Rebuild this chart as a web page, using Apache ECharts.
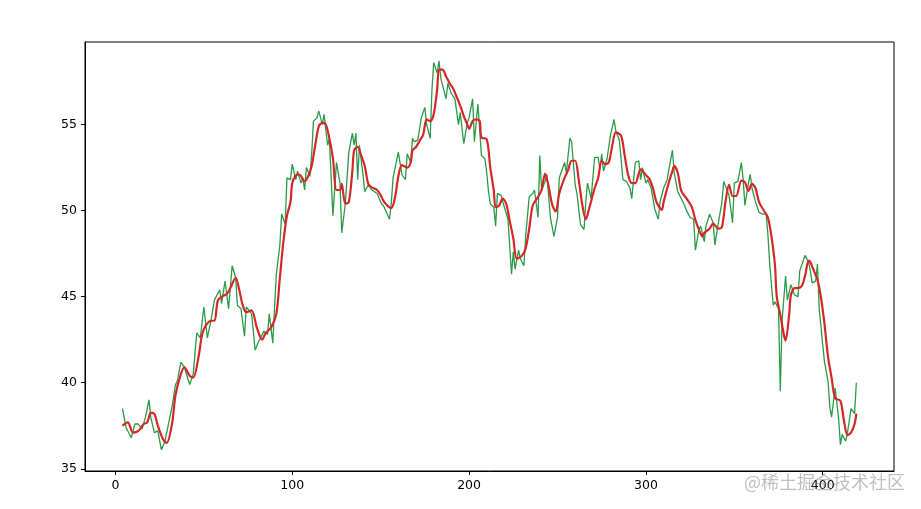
<!DOCTYPE html>
<html>
<head>
<meta charset="utf-8">
<script src="https://cdn.jsdelivr.net/npm/echarts@6/dist/echarts.min.js"></script>
<style>html,body{margin:0;padding:0;background:#fff}#c{width:921px;height:509px}</style>
</head>
<body>
<div id="c"></div>
<script>
var xTicks = [0, 100, 200, 300, 400];
var yTicks = [35, 40, 45, 50, 55];

var priceIdx = [4,6,9,11,13,15,17,19,20,22,24,26,28,30,32,34,35,37,39,42,44,46,48,50,52,54,56,59,60,62,64,66,68,69,71,73,74,77,78,79,81,84,86,87,89,90,91,93,94,96,97,99,100,102,103,105,106,107,108,110,111,112,114,115,117,118,120,121,123,125,127,128,130,132,134,135,136,137,138,140,141,143,145,148,150,151,152,155,156,157,159,160,162,164,165,167,168,169,171,173,175,176,178,179,180,182,183,184,185,187,188,190,192,194,195,197,199,200,202,203,205,207,209,210,211,212,214,215,216,218,220,222,224,225,226,228,229,231,232,234,236,237,239,240,241,243,244,246,248,250,251,254,255,257,258,260,261,263,265,266,267,269,271,273,274,275,276,278,280,282,283,285,287,289,291,292,294,296,297,298,300,301,303,305,307,308,310,312,313,315,316,318,319,321,323,325,327,328,330,331,333,334,336,338,339,341,343,344,345,347,349,350,352,354,355,356,358,359,360,362,364,366,368,369,370,372,373,375,376,377,379,380,382,383,384,386,387,389,390,392,393,394,396,397,398,400,401,402,403,404,405,407,408,409,410,411,413,414,416,418,419];
var priceVal = [38.5,37.4,36.8,37.6,37.6,37.3,38.0,39.0,38.0,37.1,37.2,36.1,36.6,37.6,38.6,39.9,40.1,41.2,40.9,39.9,40.5,42.9,42.6,44.4,42.6,43.6,44.8,45.4,44.6,45.9,44.3,46.8,46.1,44.5,44.3,42.7,44.4,44.0,43.0,41.9,42.4,43.0,42.8,44.0,42.3,44.4,46.3,48.0,49.8,49.2,51.9,51.8,52.7,51.8,52.3,51.6,51.9,51.2,52.5,52.0,53.3,55.2,55.4,55.8,55.0,55.6,53.8,54.2,49.7,52.8,51.6,48.7,50.4,53.4,54.5,53.8,54.5,51.8,53.8,52.1,51.1,51.5,51.2,51.0,50.5,50.4,50.2,49.5,50.4,51.9,52.9,53.4,52.1,51.8,53.3,52.8,54.2,54.0,54.1,55.4,56.0,55.0,54.2,57.0,58.6,58.0,58.7,57.7,57.8,56.5,57.4,56.8,56.5,55.0,55.7,53.9,55.1,55.4,56.5,54.0,56.2,53.2,53.0,52.2,51.1,50.4,50.2,49.1,51.0,50.9,50.2,49.5,46.3,47.6,46.6,47.7,47.2,46.8,48.5,50.8,51.0,51.2,49.6,53.2,51.2,51.7,52.1,49.6,48.5,49.6,51.9,52.8,52.2,54.2,54.0,51.5,51.0,49.2,48.9,50.5,51.6,50.7,53.1,53.1,52.4,53.3,52.3,53.0,54.4,55.3,54.6,54.1,51.8,51.7,51.3,50.7,52.8,52.9,51.8,52.5,51.6,51.8,51.3,50.1,49.5,50.5,51.3,51.8,52.4,53.5,52.2,51.1,50.9,50.5,50.0,49.6,49.5,47.7,48.9,49.1,48.2,49.1,49.8,49.3,48.0,49.3,50.5,51.7,51.8,50.9,49.3,51.6,51.7,52.8,51.8,50.3,51.6,52.1,51.3,50.5,49.9,49.8,49.8,48.6,46.9,44.5,44.7,44.3,39.5,43.6,46.2,44.8,45.7,45.8,45.1,45.0,46.5,47.1,47.4,47.0,46.5,45.8,45.9,46.9,44.3,42.2,41.2,41.3,40.1,38.6,38.0,39.7,38.8,37.9,36.4,37.0,36.6,37.1,38.5,38.2,40.0];

var avgIdx = [4,7,10,13,16,18,20,22,24,27,29,32,34,37,39,42,44,47,49,51,54,56,58,61,63,65,68,70,72,74,77,80,83,85,88,91,93,95,97,99,100,102,104,107,109,111,113,115,117,119,121,123,125,127,128,130,132,134,135,137,139,141,143,145,148,150,152,156,158,160,162,165,167,168,170,172,174,176,178,180,182,183,185,187,189,191,193,195,197,199,200,202,204,206,207,210,212,214,215,217,219,221,223,225,227,230,232,234,236,239,241,243,245,247,249,251,254,256,258,260,262,264,266,268,271,273,275,277,279,281,283,286,288,290,292,294,297,299,301,302,304,306,309,310,313,315,316,318,320,323,326,328,330,332,333,336,338,341,343,345,347,349,351,354,356,358,360,362,364,367,369,371,373,374,376,378,379,381,382,384,385,388,390,392,393,395,397,399,401,403,405,407,410,412,414,416,418,419];
var avgVal = [37.5,37.7,37.1,37.2,37.6,37.7,38.25,38.2,37.5,36.7,36.5,37.6,39.3,40.5,40.9,40.4,40.3,41.5,42.8,43.3,43.6,43.6,44.8,45.05,45.15,45.5,46.1,45.4,44.5,44.1,44.2,43.2,42.5,42.9,43.2,44.0,46.1,48.2,49.7,50.5,51.6,52.05,52.1,51.7,52.0,52.6,53.8,54.9,55.1,55.0,54.2,53.05,51.2,51.2,51.55,50.4,50.5,52.3,53.5,53.7,53.2,52.6,51.55,51.35,51.2,50.9,50.5,50.15,50.7,52.0,52.65,52.5,52.8,53.5,53.7,54.05,54.4,55.3,55.2,55.6,57.1,58.2,58.2,57.8,57.4,57.1,56.6,56.1,55.5,55.0,54.75,55.2,55.3,55.2,54.25,54.15,52.5,51.15,50.2,50.3,50.7,50.4,49.4,48.4,47.2,47.4,47.8,48.95,50.3,50.8,51.2,52.15,51.4,50.35,49.95,51.0,51.9,52.35,52.9,52.9,51.8,50.35,49.5,50.15,51.3,51.9,52.9,52.7,52.8,53.8,54.55,54.35,53.2,52.05,51.6,51.6,52.4,52.2,51.95,51.85,51.3,50.5,50.05,50.5,51.65,52.3,52.6,52.2,51.15,50.7,50.2,49.45,48.9,48.5,48.7,48.95,49.25,48.95,49.05,50.5,51.5,50.85,50.85,51.75,51.65,51.15,51.55,51.3,50.5,49.95,49.6,48.5,46.8,45.0,43.95,42.8,42.45,43.95,45.1,45.5,45.5,45.6,46.2,47.1,47.0,46.5,46.0,44.95,43.4,41.5,40.3,39.1,38.95,37.8,36.95,37.1,37.6,38.2];

function pairs(xs, ys){ return xs.map(function(x,i){ return [x, ys[i]]; }); }

var chart = echarts.init(document.getElementById('c'), null, {renderer:'canvas'});
var labelFont = {color:'#000', fontSize:12.5, fontFamily:'DejaVu Sans'};
var axisLineStyle = {show:true, onZero:false, lineStyle:{color:'#000', width:1}};
chart.setOption({
  animation:false,
  backgroundColor:'#fff',
  grid:{left:85, right:27, top:42, bottom:38, show:true, borderColor:'#000', borderWidth:1, backgroundColor:'transparent', containLabel:false},
  xAxis:{
    type:'value', min:-17.2, max:440.3,
    axisLine:axisLineStyle,
    splitLine:{show:false},
    axisTick:{show:true, inside:false, length:4, lineStyle:{color:'#000'}, customValues:xTicks},
    axisLabel:Object.assign({margin:8, customValues:xTicks}, labelFont)
  },
  yAxis:{
    type:'value', min:34.87, max:59.8,
    axisLine:axisLineStyle,
    splitLine:{show:false},
    axisTick:{show:true, inside:false, length:4, lineStyle:{color:'#000'}, customValues:yTicks},
    axisLabel:Object.assign({margin:8, customValues:yTicks}, labelFont)
  },
  series:[
    {type:'line', data:pairs(priceIdx, priceVal), showSymbol:false, lineStyle:{color:'#2a9a48', width:1.3}, z:2},
    {type:'line', data:pairs(avgIdx, avgVal), showSymbol:false, smooth:0.3, lineStyle:{color:'#d62728', width:2.2}, z:3}
  ],
  graphic:[
    {type:'text', right:16, top:473, z:100, style:{text:'@稀土掘金技术社区', fill:'rgba(140,140,140,0.55)', font:'18px "Noto Sans CJK SC"'}}
  ]
});
</script>
</body>
</html>
